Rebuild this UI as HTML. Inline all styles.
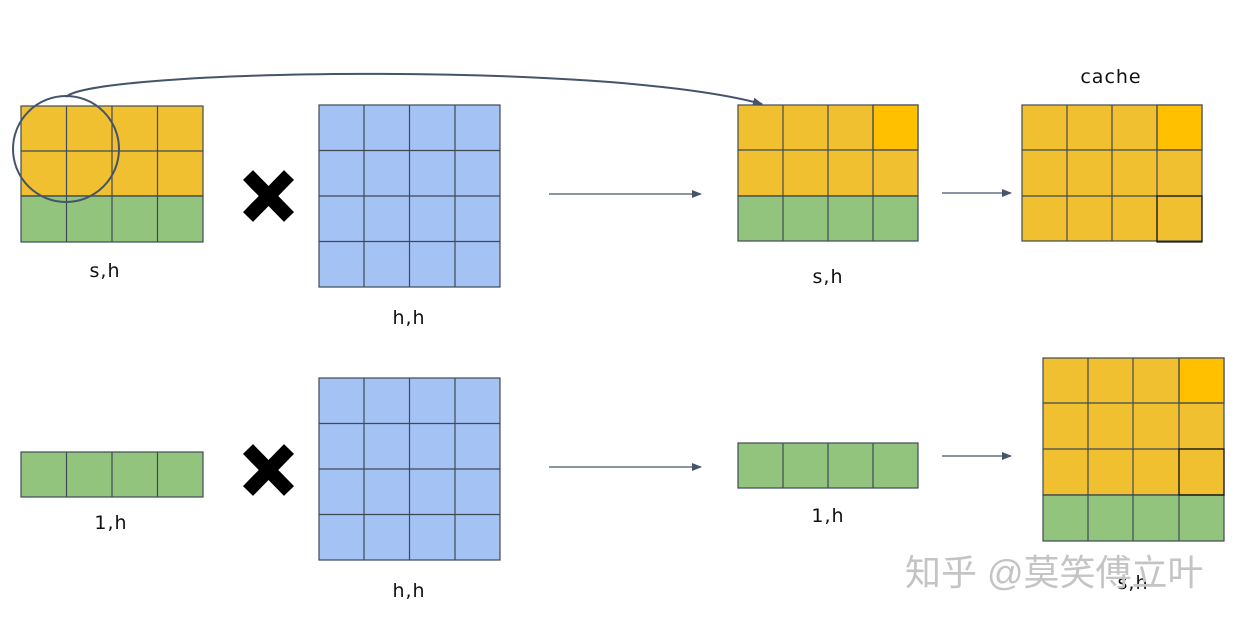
<!DOCTYPE html>
<html><head><meta charset="utf-8"><style>
html,body{margin:0;padding:0;background:#fff;}
svg{display:block;}
text{font-family:"DejaVu Sans","Liberation Sans",sans-serif;font-size:19px;fill:#111;letter-spacing:1px;}
.wm{font-family:"Liberation Sans","Noto Sans CJK SC",sans-serif;font-size:36px;fill:#c4c4c4;letter-spacing:0;}
</style></head><body>
<svg width="1239" height="621" viewBox="0 0 1239 621" xmlns="http://www.w3.org/2000/svg">
<defs><marker id="ah" markerWidth="10" markerHeight="8" refX="9" refY="4" orient="auto" markerUnits="userSpaceOnUse"><path d="M0,0 L10,4 L0,8 Z" fill="#44546a"/></marker></defs>
<g stroke="#3f4a55" stroke-width="1.2">
<rect x="21" y="106" width="182" height="90" fill="#f0c030"/>
<rect x="21" y="196" width="182" height="46" fill="#93c47d"/>
<path d="M66.5,106V242M112,106V242M157.5,106V242M21,151H203M21,196H203" fill="none"/>
<rect x="319" y="105" width="181" height="182" fill="#a4c2f4"/>
<path d="M364,105V287M409.5,105V287M455,105V287M319,150.5H500M319,196H500M319,241.5H500" fill="none"/>
<rect x="738" y="105" width="180" height="91" fill="#f0c030"/>
<rect x="873" y="105" width="45" height="45" fill="#ffc000"/>
<rect x="738" y="196" width="180" height="45" fill="#93c47d"/>
<path d="M783,105V241M828,105V241M873,105V241M738,150H918M738,196H918" fill="none"/>
<rect x="1022" y="105" width="180" height="136" fill="#f0c030"/>
<rect x="1157" y="105" width="45" height="45" fill="#ffc000"/>
<path d="M1067,105V241M1112,105V241M1157,105V241M1022,150H1202M1022,196H1202" fill="none"/>
<rect x="1157" y="196" width="45" height="46" fill="none" stroke="#111"/>
<rect x="21" y="452" width="182" height="45" fill="#93c47d"/>
<path d="M66.5,452V497M112,452V497M157.5,452V497" fill="none"/>
<rect x="319" y="378" width="181" height="182" fill="#a4c2f4"/>
<path d="M364,378V560M409.5,378V560M455,378V560M319,423.5H500M319,469H500M319,514.5H500" fill="none"/>
<rect x="738" y="443" width="180" height="45" fill="#93c47d"/>
<path d="M783,443V488M828,443V488M873,443V488" fill="none"/>
<rect x="1043" y="358" width="181" height="137" fill="#f0c030"/>
<rect x="1179" y="358" width="45" height="45" fill="#ffc000"/>
<rect x="1043" y="495" width="181" height="46" fill="#93c47d"/>
<path d="M1088,358V541M1133,358V541M1179,358V541M1043,403H1224M1043,449H1224M1043,495H1224" fill="none"/>
<rect x="1179" y="449" width="45" height="46" fill="none" stroke="#111"/>
</g>
<circle cx="66" cy="149" r="53" fill="none" stroke="#44546a" stroke-width="2"/>
<path d="M66,97 C90,70 600,60 762,104" fill="none" stroke="#44546a" stroke-width="2" marker-end="url(#ah)"/>
<g stroke="#44546a" stroke-width="1.2" marker-end="url(#ah)">
<line x1="549" y1="194" x2="701" y2="194"/>
<line x1="942" y1="193" x2="1011" y2="193"/>
<line x1="549" y1="467" x2="701" y2="467"/>
<line x1="942" y1="456" x2="1011" y2="456"/>
</g>
<g stroke="#000" stroke-width="14">
<path d="M248,175L289,217M289,175L248,217"/>
<path d="M248,449L289,491M289,449L248,491"/>
</g>
<text x="105" y="277" text-anchor="middle">s,h</text>
<text x="409" y="324" text-anchor="middle">h,h</text>
<text x="828" y="283" text-anchor="middle">s,h</text>
<text x="1111" y="83" text-anchor="middle">cache</text>
<text x="111" y="529" text-anchor="middle">1,h</text>
<text x="828" y="522" text-anchor="middle">1,h</text>
<text x="409" y="597" text-anchor="middle">h,h</text>
<text x="1133" y="589" text-anchor="middle">s,h</text>
<text class="wm" x="905" y="585">知乎 @莫笑傅立叶</text>
</svg>
</body></html>
